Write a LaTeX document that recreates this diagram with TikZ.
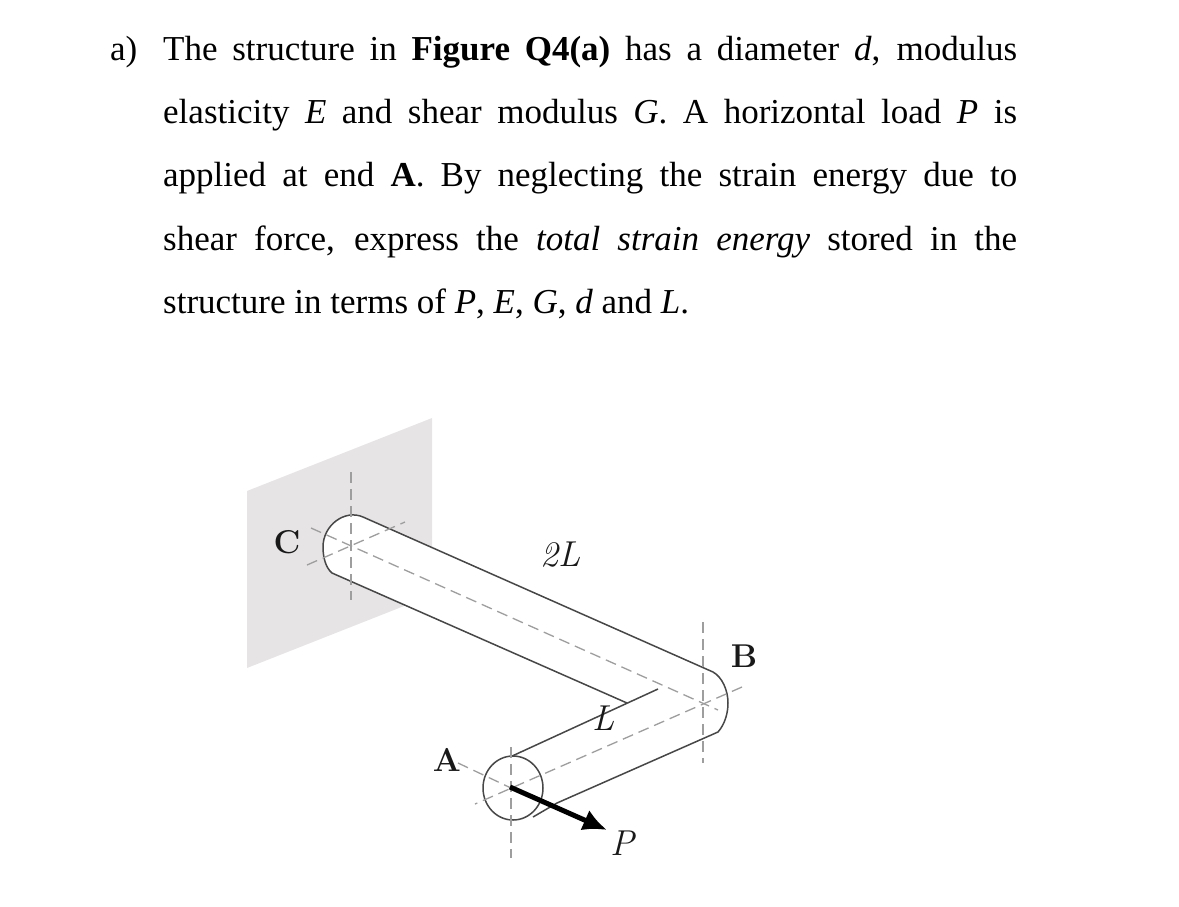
\documentclass[tikz,border=0pt]{standalone}
\usepackage{fontspec}
\usetikzlibrary{arrows.meta}
\newfontfamily\tnr{Liberation Serif}
\newcommand{\tline}[1]{\makebox[854pt][s]{#1}}
\definecolor{wallc}{HTML}{E7E4E5}
\tikzset{
  txt/.style={anchor=base west,inner sep=0pt,font=\tnr\fontsize{35}{35}\selectfont},
  bar/.style={draw=black!72,line width=1.5pt},
  axis/.style={draw=black!38,line width=1.3pt,dash pattern=on 11pt off 6pt},
  lab/.style={inner sep=0pt,font=\fontsize{33}{33}\selectfont,text=black!90},
  mlab/.style={inner sep=0pt,font=\fontsize{36}{36}\selectfont\itshape,text=black!90},
  wall/.style={fill=wallc,draw=none}
}
\begin{document}
\begin{tikzpicture}[x=1pt,y=-1pt]
\useasboundingbox (0,0) rectangle (1179,906);
% text
\node[txt] (l0) at (110,60) {a)};
\node[txt] (l1) at (163,60) {\tline{The structure in \textbf{Figure Q4(a)} has a diameter \textit{d}, modulus}};
\node[txt] (l2) at (163,123) {\tline{elasticity \textit{E} and shear modulus \textit{G}. A horizontal load \textit{P} is}};
\node[txt] (l3) at (163,186) {\tline{applied at end \textbf{A}. By neglecting the strain energy due to}};
\node[txt] (l4) at (163,250) {\tline{shear force, express the \textit{total strain energy} stored in the}};
\node[txt] (l5) at (163,313) {structure in terms of \textit{P}, \textit{E}, \textit{G}, \textit{d} and \textit{L}.};
% wall
\fill[wall] (247,491) -- (432,418) -- (432,595) -- (247,668) -- cycle;
% bar
\fill[white] (363,517) .. controls (345,509) and (323,525) .. (323,547) .. controls (323,558) and (326,568) .. (332,573)
  -- (627,703) -- (510,757) -- (533,817) -- (718,732) .. controls (725,722) and (728,713) .. (728,703) .. controls (728,690) and (722,677) .. (713,672) -- cycle;
\draw[bar] (363,517) -- (713,672) .. controls (722,677) and (728,690) .. (728,703) .. controls (728,713) and (725,724) .. (718,732) -- (557,803) -- (533,817);
\draw[bar] (363,517) .. controls (345,509) and (323,525) .. (323,547) .. controls (323,558) and (326,568) .. (332,573) -- (627,703);
\draw[bar] (510,757) -- (658,689);
\draw[bar,fill=white] (513,788) ellipse [x radius=30,y radius=32];
% centre lines
\draw[axis] (351,472) -- (351,600);
\draw[axis] (307,565) -- (405,522);
\draw[axis] (311,528) -- (718,710);
\draw[axis] (703,622) -- (703,763);
\draw[axis] (742,687) -- (475,804);
\draw[axis] (511,747) -- (511,858);
\draw[axis] (458,763) -- (511,788);
% load
\coordinate (pa) at (510,787);
\coordinate (pb) at (607,830);
\draw[line width=5pt,-{Latex[length=24pt,width=22pt]}] (pa) -- (pb);
% labels
\node[lab] (C) at (287,542) {\textbf{C}};
\node[mlab] (two) at (561,555) {2L};
\node[mlab] (L) at (604,718) {L};
\node[mlab] (P) at (622,843) {P};
\node[lab] (A) at (447,760) {\textbf{A}};
\node[lab] (B) at (744,656) {\textbf{B}};
\end{tikzpicture}
\end{document}
